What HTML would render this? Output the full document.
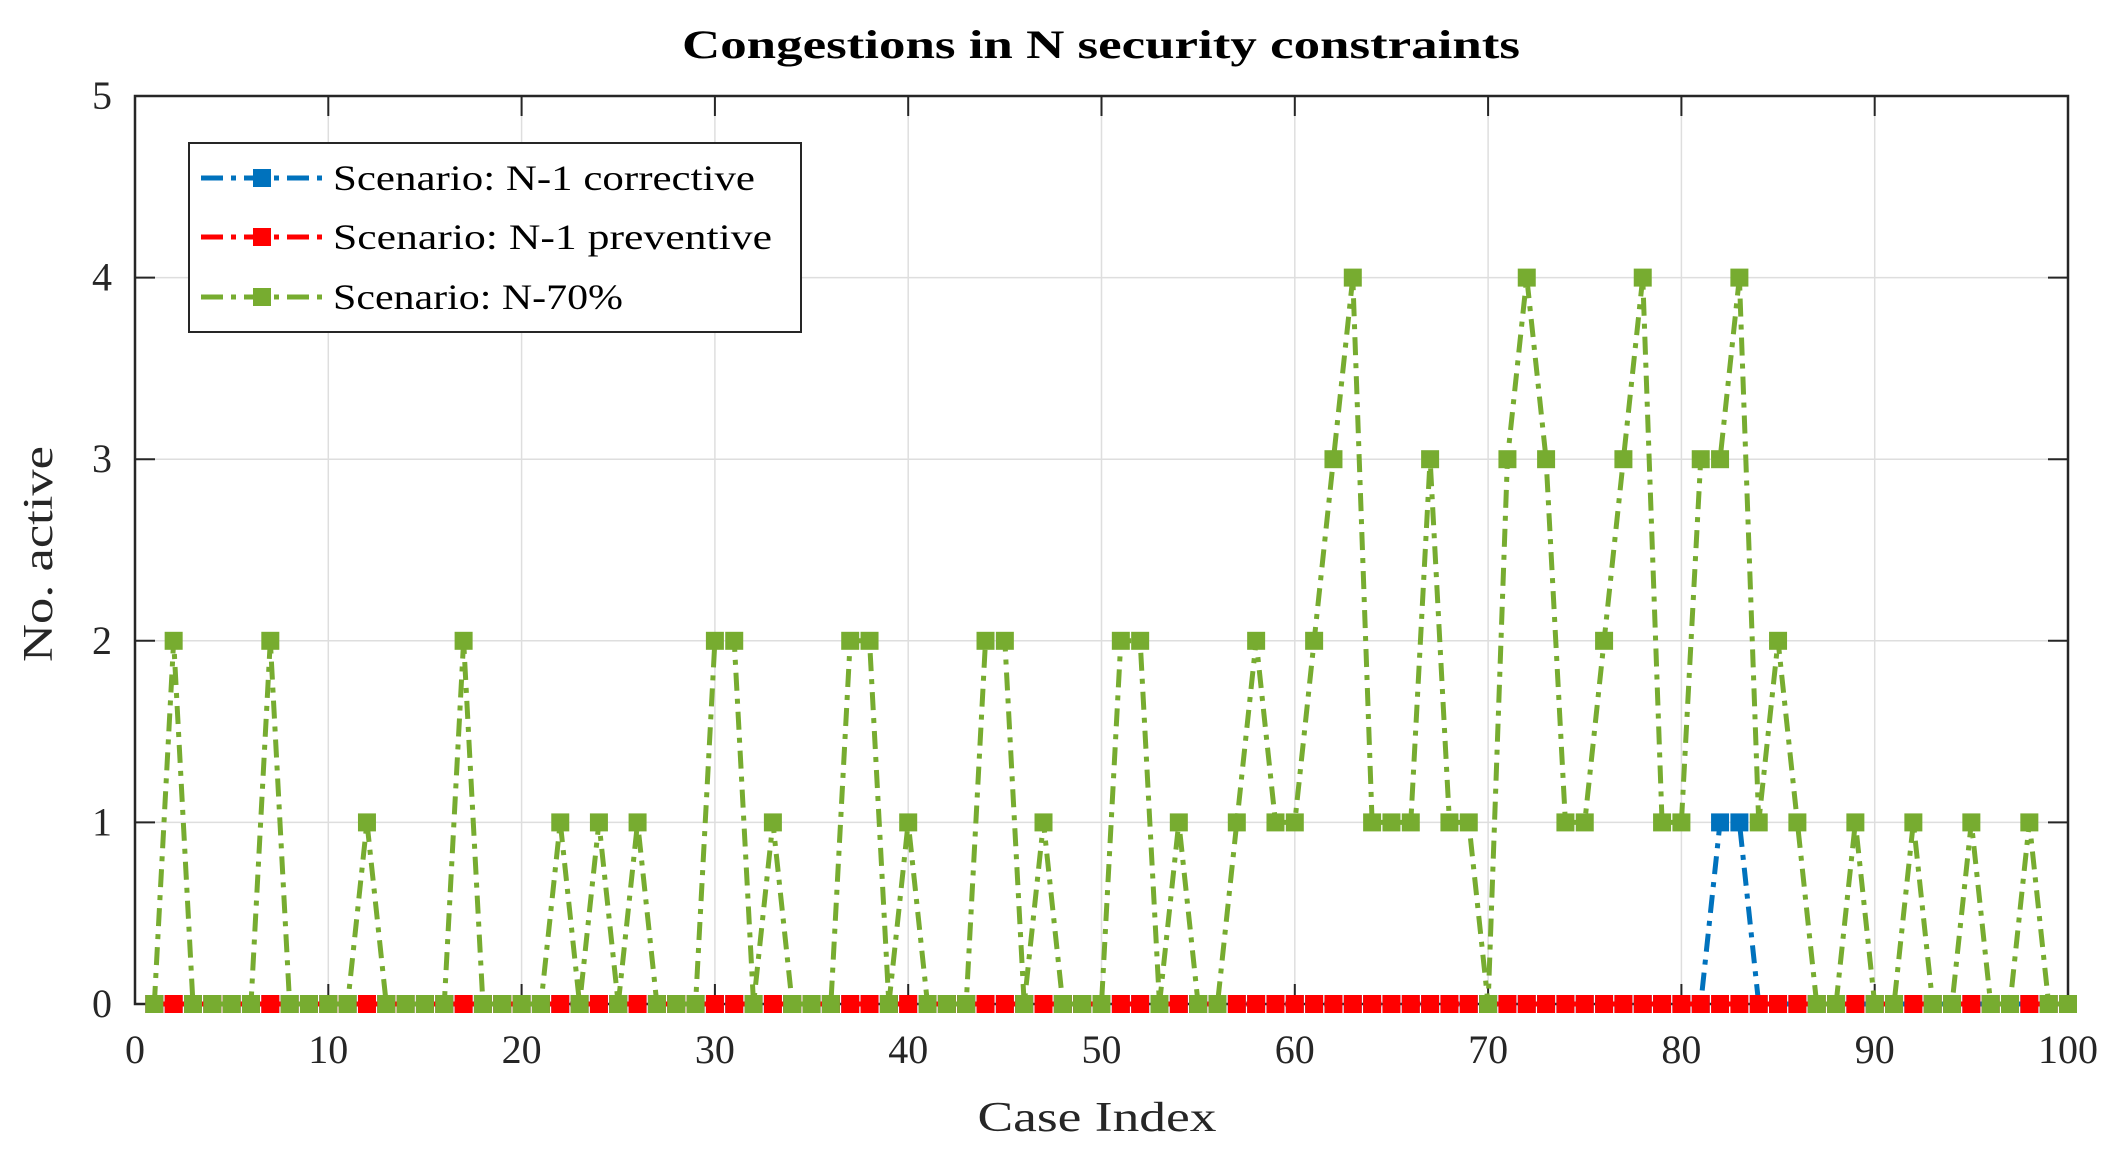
<!DOCTYPE html>
<html><head><meta charset="utf-8"><style>html,body{margin:0;padding:0;background:#fff}svg{display:block}</style></head>
<body>
<svg id="s" width="2118" height="1158" xmlns="http://www.w3.org/2000/svg" font-family="'Liberation Serif','DejaVu Serif',serif">
<rect width="2118" height="1158" fill="#fff"/>
<g id="grid" stroke="#dedede" stroke-width="1.5"></g>
<g id="ticks" stroke="#262626" stroke-width="2"></g>
<rect x="135" y="96" width="1933" height="908" fill="none" stroke="#262626" stroke-width="2.5"/>
<g id="labels" fill="#262626" font-size="40"></g>
<g id="plot"></g>
<text x="1101" y="58" text-anchor="middle" font-size="40" font-weight="bold" fill="#000" textLength="838" lengthAdjust="spacingAndGlyphs">Congestions in N security constraints</text>
<text x="1097" y="1131" text-anchor="middle" font-size="42" fill="#262626" textLength="239" lengthAdjust="spacingAndGlyphs">Case Index</text>
<text transform="translate(52,554) rotate(-90)" text-anchor="middle" font-size="42" fill="#262626" textLength="216" lengthAdjust="spacingAndGlyphs">No. active</text>
<g id="legend">
<rect x="189" y="143" width="612" height="189" fill="#fff" stroke="#262626" stroke-width="2"/>
</g>
</svg>
<script>
var NS="http://www.w3.org/2000/svg";
function el(p,t,a,txt){var e=document.createElementNS(NS,t);for(var k in a)e.setAttribute(k,a[k]);if(txt!==undefined)e.textContent=txt;document.getElementById(p).appendChild(e);return e;}
var X=function(i){return 135+19.33*i;},Y=function(v){return 1004-181.6*v;};
for(var i=10;i<100;i+=10){el('grid','line',{x1:X(i),x2:X(i),y1:96,y2:1004});}
for(var v=1;v<5;v++){el('grid','line',{x1:135,x2:2068,y1:Y(v),y2:Y(v)});}
for(var i=0;i<=100;i+=10){var x=X(i);el('ticks','line',{x1:x,x2:x,y1:1004,y2:984});el('ticks','line',{x1:x,x2:x,y1:96,y2:116});
 el('labels','text',{x:x,y:1063,'text-anchor':'middle'},String(i));}
for(var v=0;v<=5;v++){var y=Y(v);el('ticks','line',{x1:135,x2:155,y1:y,y2:y});el('ticks','line',{x1:2068,x2:2048,y1:y,y2:y});
 el('labels','text',{x:112,y:y+13,'text-anchor':'end'},String(v));}
var g=[0,2,0,0,0,0,2,0,0,0,0,1,0,0,0,0,2,0,0,0,0,1,0,1,0,1,0,0,0,2,2,0,1,0,0,0,2,2,0,1,0,0,0,2,2,0,1,0,0,0,2,2,0,1,0,0,1,2,1,1,2,3,4,1,1,1,3,1,1,0,3,4,3,1,1,2,3,4,1,1,3,3,4,1,2,1,0,0,1,0,0,1,0,0,1,0,0,1,0,0];
var r=[],b=[];for(var i=0;i<100;i++){r.push(0);b.push((i==81||i==82)?1:0);}
function series(d,c){var pts=d.map(function(v,i){return X(i+1)+','+Y(v);}).join(' ');
 el('plot','polyline',{points:pts,fill:'none',stroke:c,'stroke-width':5,'stroke-dasharray':'18,8,5,8'});
 d.forEach(function(v,i){el('plot','rect',{x:X(i+1)-9,y:Y(v)-9,width:18,height:18,fill:c});});}
series(b,'#0072bd');series(r,'#ff0000');series(g,'#77ac30');
var L=[['#0072bd','Scenario: N-1 corrective',422,178],['#ff0000','Scenario: N-1 preventive',439,237],['#77ac30','Scenario: N-70%',290,297]];
L.forEach(function(l){el('legend','line',{x1:201,x2:323,y1:l[3],y2:l[3],stroke:l[0],'stroke-width':5,'stroke-dasharray':'22,8,5,8'});
 el('legend','rect',{x:253,y:l[3]-9,width:18,height:18,fill:l[0]});
 el('legend','text',{x:333,y:l[3]+12,'font-size':36,fill:'#000',textLength:l[2],lengthAdjust:'spacingAndGlyphs'},l[1]);});
</script>
</body></html>
